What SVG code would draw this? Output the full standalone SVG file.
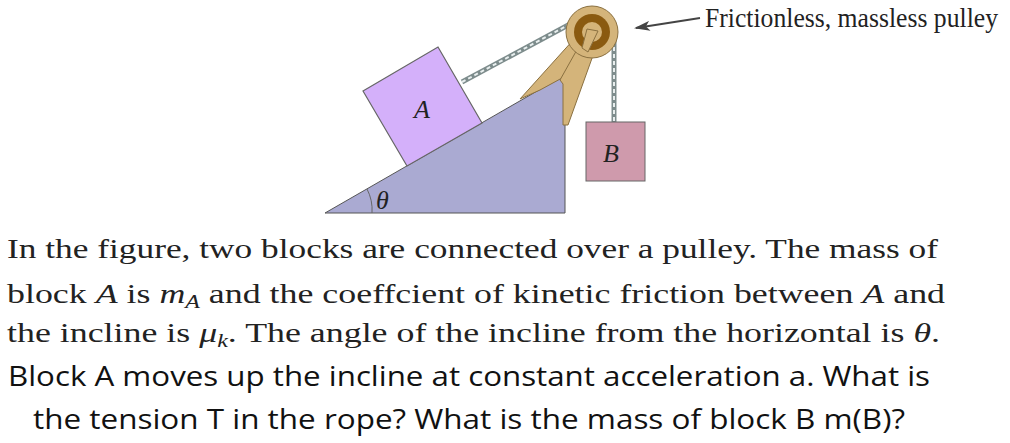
<svg xmlns="http://www.w3.org/2000/svg" width="1010" height="443" viewBox="0 0 1010 443">
<style>
.serif{font-family:"Liberation Serif","Times New Roman",serif;font-size:27px;fill:#222}
.sans{font-family:"Open Sans","Noto Sans",sans-serif;font-size:28px;fill:#111}
.lbl{font-family:"Liberation Serif",serif;font-style:italic;font-size:26px;fill:#222}
.rope{stroke:#7d8c8c;stroke-width:5;fill:none}
.rope2{stroke:#e8eeee;stroke-width:2;stroke-dasharray:4 3;fill:none}
.tan{fill:#d4b47a;stroke:#8a7040;stroke-width:1}
</style>
<defs><marker id="ah" markerWidth="16" markerHeight="10" refX="14" refY="5" orient="auto" markerUnits="userSpaceOnUse"><path d="M0,0 L16,5 L0,10 L4,5 Z" fill="#444"/></marker></defs>
<rect width="1010" height="443" fill="#fff"/>
<g id="incline"><polygon points="325,213 565,75 565,213" fill="#aaaad2" stroke="#555" stroke-width="1"/>
<path d="M367,189 A45,45 0 0 1 372,213" fill="none" stroke="#666"/>
<text class="lbl" x="376" y="209" font-size="22">θ</text></g>
<g id="blockA"><polygon points="363,91 438,47 482,123 407,166" fill="#d4b0fa" stroke="#666" stroke-width="1.2"/><text class="lbl" x="414" y="118">A</text></g>
<g id="connectors">
<line class="rope" x1="462" y1="82" x2="572" y2="23"/><line class="rope2" x1="462" y1="82" x2="572" y2="23"/>
<line class="rope" x1="614" y1="40" x2="614" y2="122"/><line class="rope2" x1="614" y1="40" x2="614" y2="122"/>
<line x1="700" y1="18" x2="636" y2="28" stroke="#444" stroke-width="2" marker-end="url(#ah)"/>
</g>
<g id="support">
<polygon class="tan" points="520,99 584,28 596,36 562,78 540,90"/>
<polygon class="tan" points="560,80 588,30 600,36 568,125 563,125 563,84"/>
</g>
<g id="pulley"><circle cx="592" cy="32" r="26" class="tan"/><circle cx="592" cy="32" r="18" fill="#8a5a10"/><circle cx="592" cy="32" r="10" fill="#d4b47a"/>
<polygon class="tan" points="587,29 598,31 588,52 582,48"/></g>
<g id="blockB"><rect x="586" y="122" width="59" height="59" fill="#cf9aac" stroke="#666"/><text class="lbl" x="603" y="162">B</text></g>
<text class="serif" x="705" y="27" font-size="19" textLength="293" lengthAdjust="spacingAndGlyphs">Frictionless, massless pulley</text>
<text class="serif" x="7" y="258" textLength="931" lengthAdjust="spacingAndGlyphs">In the figure, two blocks are connected over a pulley. The mass of</text>
<text class="serif" x="7" y="303" textLength="938" lengthAdjust="spacingAndGlyphs">block <tspan font-style="italic">A</tspan> is <tspan font-style="italic">m</tspan><tspan font-style="italic" font-size="18" dy="5">A</tspan><tspan dy="-5"> and the coeffcient of kinetic friction between </tspan><tspan font-style="italic">A</tspan> and</text>
<text class="serif" x="7" y="342" textLength="933" lengthAdjust="spacingAndGlyphs">the incline is <tspan font-style="italic">μ</tspan><tspan font-style="italic" font-size="18" dy="5">k</tspan><tspan dy="-5">. The angle of the incline from the horizontal is </tspan><tspan font-style="italic">θ</tspan>.</text>
<text class="sans" x="8" y="386" textLength="922" lengthAdjust="spacingAndGlyphs">Block A moves up the incline at constant acceleration a. What is</text>
<text class="sans" x="33" y="429" textLength="872" lengthAdjust="spacingAndGlyphs">the tension T in the rope? What is the mass of block B m(B)?</text>
</svg>
